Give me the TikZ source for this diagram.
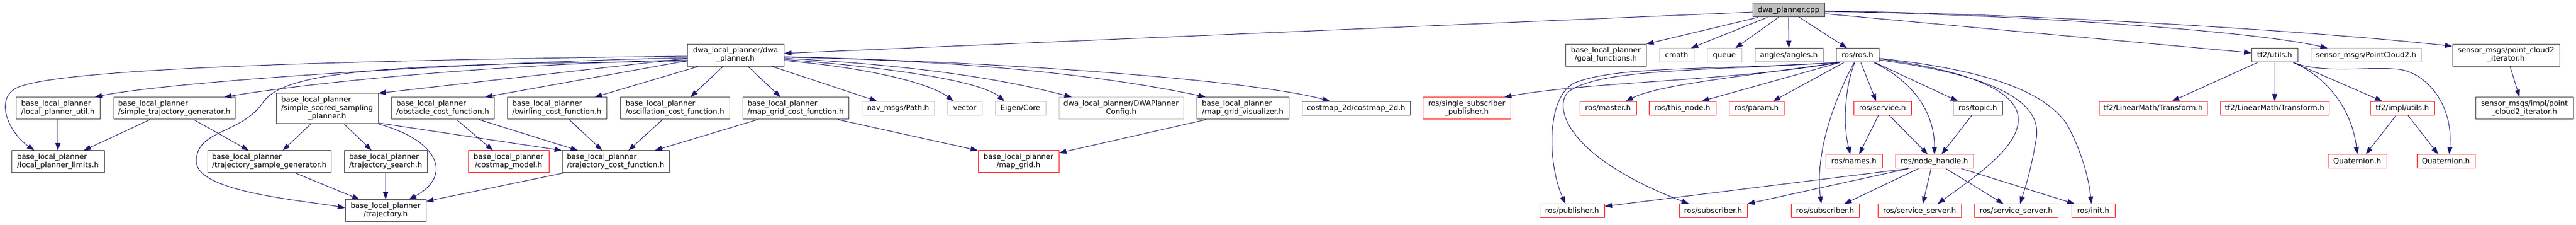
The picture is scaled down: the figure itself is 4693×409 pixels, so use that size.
\documentclass[tikz,border=0pt]{standalone}
\usepackage{fontspec}
\setmainfont{DejaVu Sans}
\usepackage{tikz}
\usetikzlibrary{arrows.meta,calc}
\definecolor{edgeblue}{HTML}{191970}
\definecolor{docline}{HTML}{404040}
\definecolor{extline}{HTML}{BFBFBF}
\definecolor{missline}{HTML}{FF0000}
\definecolor{cppfill}{HTML}{BFBFBF}
% all lines but the last left-justified, last one centred
\newcommand{\flabel}[2]{\begin{tabular}{@{}l@{}}#1\\\multicolumn{1}{@{}c@{}}{#2}\end{tabular}}

\begin{document}
\begin{tikzpicture}[
    x=0.75pt, y=-0.75pt,
    >={Triangle[length=10pt,width=7pt]},
    every node/.style={font=\fontsize{10}{11.25}\selectfont, inner sep=0pt},
    hbox/.style={rectangle, line width=0.75pt},
    docfile/.style={hbox, draw=docline},
    extfile/.style={hbox, draw=extline},
    missfile/.style={hbox, draw=missline},
    mainfile/.style={hbox, draw=docline, fill=cppfill},
    oneline/.style={minimum height=18.75pt, text height=8pt, text depth=2pt},
    twoline/.style={minimum height=30pt},
    threeline/.style={minimum height=41.25pt},
    wd/.style={minimum width=#1*0.75pt},
    incl/.style={->, edgeblue, line width=0.75pt}
]
    \useasboundingbox (0,0) rectangle (4693,409);

    % === ROW 0: the source file ===
    \node[mainfile, oneline, wd=131] (cpp) at (3258.5,18.5) {dwa\_planner.cpp};

    % === ROW 1 ===
    \node[docfile, twoline, wd=176] (dwah) at (1340,100.5) {\flabel{dwa\_local\_planner/dwa}{\_planner.h}};
    \node[docfile, twoline, wd=147] (goalf) at (2925.5,100.5) {\flabel{base\_local\_planner}{/goal\_functions.h}};
    \node[extfile, oneline, wd=63] (cmath) at (3054.5,100.5) {cmath};
    \node[extfile, oneline, wd=63] (queue) at (3141.5,100.5) {queue};
    \node[docfile, oneline, wd=124] (angles) at (3259,100.5) {angles/angles.h};
    \node[docfile, oneline, wd=78] (rosh) at (3384,100.5) {ros/ros.h};
    \node[docfile, oneline, wd=84] (tfutils) at (4144,100.5) {tf2/utils.h};
    \node[extfile, oneline, wd=201] (pcloud) at (4310.5,100.5) {sensor\_msgs/PointCloud2.h};
    \node[docfile, twoline, wd=195] (pciter) at (4565.5,100.5) {\flabel{sensor\_msgs/point\_cloud2}{\_iterator.h}};

    % === ROW 2 ===
    \node[docfile, twoline, wd=153] (lputil) at (105.5,197) {\flabel{base\_local\_planner}{/local\_planner\_util.h}};
    \node[docfile, twoline, wd=221] (stgen) at (317.5,197) {\flabel{base\_local\_planner}{/simple\_trajectory\_generator.h}};
    \node[docfile, threeline, wd=186] (sssp) at (596,197.5) {\flabel{base\_local\_planner\\/simple\_scored\_sampling}{\_planner.h}};
    \node[docfile, twoline, wd=187] (obst) at (806.5,197) {\flabel{base\_local\_planner}{/obstacle\_cost\_function.h}};
    \node[docfile, twoline, wd=181] (twirl) at (1014.5,197) {\flabel{base\_local\_planner}{/twirling\_cost\_function.h}};
    \node[docfile, twoline, wd=199] (oscil) at (1229.5,197) {\flabel{base\_local\_planner}{/oscillation\_cost\_function.h}};
    \node[docfile, twoline, wd=193] (mgcost) at (1449.5,197) {\flabel{base\_local\_planner}{/map\_grid\_cost\_function.h}};
    \node[extfile, oneline, wd=132] (navpath) at (1636,197) {nav\_msgs/Path.h};
    \node[extfile, oneline, wd=63] (vect) at (1757.5,197) {vector};
    \node[extfile, oneline, wd=92] (eigen) at (1859,197) {Eigen/Core};
    \node[extfile, twoline, wd=227] (dwacfg) at (2042.5,197) {\flabel{dwa\_local\_planner/DWAPlanner}{Config.h}};
    \node[docfile, twoline, wd=168] (mgvis) at (2264,197) {\flabel{base\_local\_planner}{/map\_grid\_visualizer.h}};
    \node[docfile, oneline, wd=197] (costmap) at (2470.5,197) {costmap\_2d/costmap\_2d.h};
    \node[missfile, twoline, wd=160] (sspub) at (2672,197) {\flabel{ros/single\_subscriber}{\_publisher.h}};
    \node[missfile, oneline, wd=103] (master) at (2929.5,197) {ros/master.h};
    \node[missfile, oneline, wd=122] (thisnode) at (3065,197) {ros/this\_node.h};
    \node[missfile, oneline, wd=100] (param) at (3200,197) {ros/param.h};
    \node[missfile, oneline, wd=105] (service) at (3429.5,197) {ros/service.h};
    \node[docfile, oneline, wd=90] (topic) at (3603,197) {ros/topic.h};
    \node[missfile, oneline, wd=197] (lmtfa) at (3922.5,197) {tf2/LinearMath/Transform.h};
    \node[missfile, oneline, wd=198] (lmtfb) at (4144,197) {tf2/LinearMath/Transform.h};
    \node[missfile, oneline, wd=117] (tfimpl) at (4376.5,197) {tf2/impl/utils.h};
    \node[docfile, twoline, wd=178] (pciterimpl) at (4599,197) {\flabel{sensor\_msgs/impl/point}{\_cloud2\_iterator.h}};

    % === ROW 3 ===
    \node[docfile, twoline, wd=169] (lplim) at (105.5,294) {\flabel{base\_local\_planner}{/local\_planner\_limits.h}};
    \node[docfile, twoline, wd=225] (tsgen) at (490.5,294) {\flabel{base\_local\_planner}{/trajectory\_sample\_generator.h}};
    \node[docfile, twoline, wd=151] (tsearch) at (702.5,294) {\flabel{base\_local\_planner}{/trajectory\_search.h}};
    \node[missfile, twoline, wd=147] (cmmodel) at (926.5,294) {\flabel{base\_local\_planner}{/costmap\_model.h}};
    \node[docfile, twoline, wd=195] (tcost) at (1121.5,294) {\flabel{base\_local\_planner}{/trajectory\_cost\_function.h}};
    \node[missfile, twoline, wd=147] (mapgrid) at (1855.5,294) {\flabel{base\_local\_planner}{/map\_grid.h}};
    \node[missfile, oneline, wd=103] (names) at (3377.5,293.5) {ros/names.h};
    \node[missfile, oneline, wd=142] (nodeh) at (3524,293.5) {ros/node\_handle.h};
    \node[missfile, oneline, wd=107] (quata) at (4294.5,293.5) {Quaternion.h};
    \node[missfile, oneline, wd=106] (quatb) at (4456,293.5) {Quaternion.h};

    % === ROW 4 ===
    \node[docfile, twoline, wd=147] (traj) at (702.5,383) {\flabel{base\_local\_planner}{/trajectory.h}};
    \node[missfile, oneline, wd=118] (pub) at (2864,383.5) {ros/publisher.h};
    \node[missfile, oneline, wd=124] (suba) at (3121,383.5) {ros/subscriber.h};
    \node[missfile, oneline, wd=124] (subb) at (3325,383.5) {ros/subscriber.h};
    \node[missfile, oneline, wd=152] (ssrva) at (3497,383.5) {ros/service\_server.h};
    \node[missfile, oneline, wd=152] (ssrvb) at (3673,383.5) {ros/service\_server.h};
    \node[missfile, oneline, wd=79] (init) at (3813.5,383.5) {ros/init.h};

    % === includes of dwa_planner.cpp ===
    \draw[incl] ($(cpp.west)+(0,3.5)$) -- ($(dwah.east)+(0,-3.5)$);
    \draw[incl] ($(cpp.south)+(-55.5,0)$) -- (goalf.north east);
    \draw[incl] ($(cpp.south)+(-38.5,0)$) -- ($(cmath.north)+(26,0)$);
    \draw[incl] ($(cpp.south)+(-18.5,0)$) -- ($(queue.north)+(20,0)$);
    \draw[incl] (cpp.south) -- (angles.north);
    \draw[incl] ($(cpp.south)+(19.5,0)$) -- ($(rosh.north)+(-19,0)$);
    \draw[incl] ($(cpp.east)+(0,6.5)$) -- ($(tfutils.west)+(0,-4.5)$);
    \draw[incl] ($(cpp.east)+(0,2.5)$) .. controls (3650,25) and (4100,55) .. ($(pcloud.north)+(-70,0)$);
    \draw[incl] ($(cpp.east)+(0,1.5)$) .. controls (3700,25) and (4200,55) .. ($(pciter.west)+(0,-16.5)$);

    % === includes of dwa_planner.h ===
    \draw[incl] ($(dwah.west)+(0,1.5)$) .. controls (600,110) and (100,125) .. (30,160) .. controls (-10,180) and (15,240) .. ($(lplim.north west)+(42,0)$);
    \draw[incl] ($(dwah.west)+(0,4.5)$) .. controls (800,115) and (300,150) .. ($(lputil.north east)+(-10,0)$);
    \draw[incl] ($(dwah.west)+(0,8.5)$) .. controls (950,115) and (600,145) .. ($(stgen.north east)+(-20,0)$);
    \draw[incl] ($(dwah.west)+(0,11.5)$) .. controls (700,115) and (520,130) .. (480,185) .. controls (440,245) and (355,235) .. (358,295) .. controls (360,350) and (560,365) .. ($(traj.west)+(0,-5)$);
    \draw[incl] ($(dwah.west)+(0,5.5)$) -- (sssp.north east);
    \draw[incl] ($(dwah.west)+(0,10)$) -- ($(obst.north east)+(-17,0)$);
    \draw[incl] ($(dwah.south west)+(20,0)$) -- ($(twirl.north east)+(-22,0)$);
    \draw[incl] ($(dwah.south)+(-23,0)$) -- ($(oscil.north)+(28.5,0)$);
    \draw[incl] ($(dwah.south)+(23,0)$) -- ($(mgcost.north)+(-27.5,0)$);
    \draw[incl] ($(dwah.south east)+(-21,0)$) -- ($(navpath.north)+(-38,0)$);
    \draw[incl] ($(dwah.east)+(0,9.5)$) .. controls (1600,125) and (1700,155) .. ($(vect.north)+(-20.5,0)$);
    \draw[incl] ($(dwah.east)+(0,7.5)$) .. controls (1650,125) and (1790,150) .. ($(eigen.north)+(-29,0)$);
    \draw[incl] ($(dwah.east)+(0,5.5)$) .. controls (1700,120) and (1850,150) .. ($(dwacfg.north west)+(24,0)$);
    \draw[incl] ($(dwah.east)+(0,3.5)$) .. controls (1800,110) and (2050,145) .. ($(mgvis.north west)+(17,0)$);
    \draw[incl] ($(dwah.east)+(0,2.5)$) .. controls (1900,115) and (2300,150) .. ($(costmap.north)+(-47.5,0)$);

    % === base_local_planner internals ===
    \draw[incl] (lputil.south) -- (lplim.north);
    \draw[incl] ($(stgen.south)+(-44.5,0)$) -- ($(lplim.north east)+(-38,0)$);
    \draw[incl] ($(stgen.south)+(35.5,0)$) -- ($(tsgen.north)+(-37.5,0)$);
    \draw[incl] ($(sssp.south)+(-30,0)$) -- ($(tsgen.north)+(24.5,0)$);
    \draw[incl] ($(sssp.south)+(31,0)$) -- ($(tsearch.north)+(-25.5,0)$);
    \draw[incl] (sssp.south east) .. controls (800,255) and (825,320) .. ($(traj.north)+(42.5,0)$);
    \draw[incl] ($(sssp.south east)+(0,-2)$) -- (tcost.north west);
    \draw[incl] ($(obst.south)+(25.5,0)$) -- ($(cmmodel.north)+(-28.5,0)$);
    \draw[incl] ($(obst.south)+(66.5,0)$) -- ($(tcost.north)+(-68.5,0)$);
    \draw[incl] ($(twirl.south)+(22.5,0)$) -- ($(tcost.north)+(-24.5,0)$);
    \draw[incl] ($(oscil.south)+(-22.5,0)$) -- ($(tcost.north)+(23.5,0)$);
    \draw[incl] ($(mgcost.south)+(-69.5,0)$) -- ($(tcost.north)+(71.5,0)$);
    \draw[incl] ($(mgcost.south)+(77.5,0)$) -- (mapgrid.north west);
    \draw[incl] ($(mgvis.south)+(-67,0)$) -- ($(mapgrid.east)+(0,-16)$);
    \draw[incl] ($(tcost.south west)+(3,0)$) -- ($(traj.east)+(0,-17)$);
    \draw[incl] ($(tsgen.south)+(47.5,0)$) -- ($(traj.north)+(-47.5,0)$);
    \draw[incl] (tsearch.south) -- (traj.north);

    % === ros/ros.h and friends ===
    \draw[incl] ($(rosh.south west)+(7,0)$) .. controls (3150,148) and (2900,148) .. ($(sspub.north east)+(-12,0)$);
    \draw[incl] ($(rosh.south west)+(7,0)$) .. controls (3150,142) and (3020,155) .. ($(master.north)+(32.5,0)$);
    \draw[incl] ($(rosh.south west)+(8,0)$) -- ($(thisnode.north)+(35,0)$);
    \draw[incl] ($(rosh.south west)+(15,0)$) -- ($(param.north)+(30,0)$);
    \draw[incl] ($(rosh.south west)+(5,0)$) .. controls (3100,128) and (2950,120) .. (2870,150) .. controls (2815,175) and (2820,300) .. ($(pub.north)+(-12,0)$);
    \draw[incl] ($(rosh.south west)+(5,0)$) .. controls (3100,129) and (2920,125) .. (2860,165) .. controls (2830,185) and (2840,280) .. ($(suba.north)+(-44,0)$);
    \draw[incl] ($(rosh.south)+(-6,0)$) .. controls (3350,165) and (3305,270) .. ($(subb.north)+(-7,0)$);
    \draw[incl] ($(rosh.south)+(-5,0)$) .. controls (3360,160) and (3358,230) .. ($(names.north)+(-6.5,0)$);
    \draw[incl] ($(rosh.south)+(6,0)$) -- ($(service.north)+(-11.5,0)$);
    \draw[incl] ($(rosh.south east)+(-8,0)$) -- ($(topic.north)+(-36,0)$);
    \draw[incl] ($(rosh.south east)+(-10,0)$) .. controls (3490,150) and (3525,210) .. (nodeh.north);
    \draw[incl] ($(rosh.east)+(0,6.5)$) .. controls (3600,130) and (3680,170) .. (3677,220) .. controls (3674,270) and (3600,320) .. ($(ssrva.north)+(33,0)$);
    \draw[incl] ($(rosh.east)+(0,8.5)$) .. controls (3620,135) and (3720,180) .. (3710,250) .. controls (3700,310) and (3690,340) .. ($(ssrvb.north)+(7,0)$);
    \draw[incl] ($(rosh.east)+(0,5.5)$) .. controls (3600,125) and (3720,160) .. (3765,225) .. controls (3790,270) and (3805,320) .. ($(init.north)+(-3.5,0)$);
    \draw[incl] ($(service.south)+(-7.5,0)$) -- ($(names.north)+(9.5,0)$);
    \draw[incl] ($(service.south)+(12.5,0)$) -- ($(nodeh.north)+(-12,0)$);
    \draw[incl] ($(topic.south)+(-11,0)$) -- ($(nodeh.north)+(13,0)$);
    \draw[incl] ($(nodeh.south west)+(24,0)$) -- ($(pub.east)+(0,-8.5)$);
    \draw[incl] ($(nodeh.south west)+(24,0)$) -- (suba.north east);
    \draw[incl] ($(nodeh.south)+(-29,0)$) -- ($(subb.north)+(35,0)$);
    \draw[incl] ($(nodeh.south)+(-6,0)$) -- ($(ssrva.north)+(6,0)$);
    \draw[incl] ($(nodeh.south)+(21,0)$) -- ($(ssrvb.north)+(-23,0)$);
    \draw[incl] ($(nodeh.south east)+(-22,0)$) -- ($(init.north west)+(6,0)$);

    % === tf2 and sensor_msgs ===
    \draw[incl] ($(tfutils.south)+(-31,0)$) -- ($(lmtfa.north)+(34.5,0)$);
    \draw[incl] (tfutils.south) -- (lmtfb.north);
    \draw[incl] ($(tfutils.south east)+(-9,0)$) .. controls (4240,140) and (4285,200) .. (quata.north);
    \draw[incl] ($(tfutils.south east)+(-9,0)$) -- ($(tfimpl.north)+(-36.5,0)$);
    \draw[incl] ($(tfutils.south east)+(-8,0)$) .. controls (4230,135) and (4320,120) .. (4370,126) .. controls (4420,132) and (4470,190) .. ($(quatb.north)+(6,0)$);
    \draw[incl] ($(tfimpl.south)+(-11.5,0)$) -- ($(quata.north)+(15.5,0)$);
    \draw[incl] ($(tfimpl.south)+(10.5,0)$) -- ($(quatb.north)+(-14,0)$);
    \draw[incl] ($(pciter.south)+(7.5,0)$) -- ($(pciterimpl.north)+(-9,0)$);
\end{tikzpicture}
\end{document}
